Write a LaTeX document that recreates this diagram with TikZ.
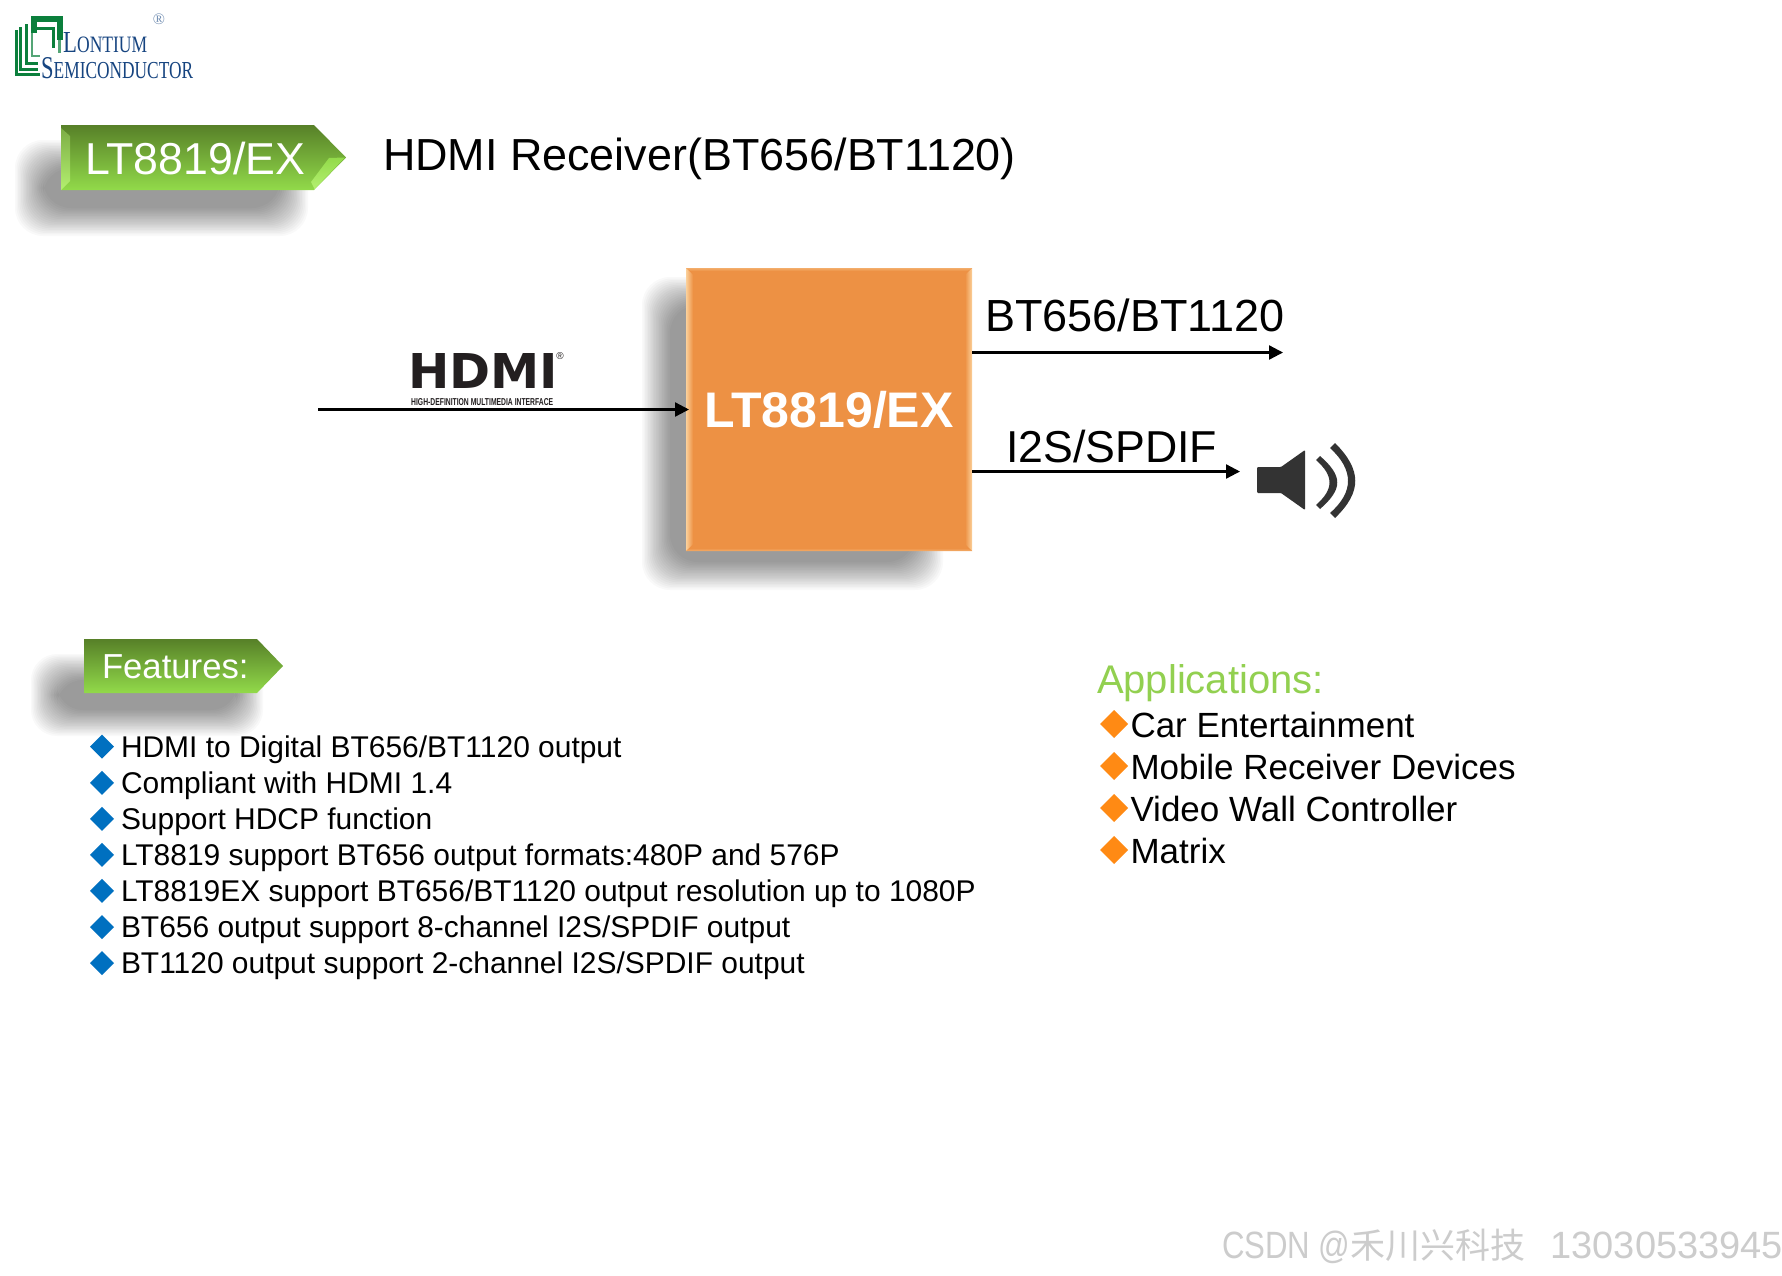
\documentclass[tikz,border=0pt]{standalone}
\usepackage{fontspec}
\usepackage{graphicx}
\setmainfont{Liberation Sans}
\newfontfamily\cjk{Noto Sans CJK SC}
\newfontfamily\serifl{Liberation Serif}
\newfontfamily\heavy{DejaVu Sans}
\usetikzlibrary{arrows.meta}
\definecolor{gTop}{HTML}{578028}
\definecolor{gBot}{HTML}{92DA4A}
\definecolor{gLite}{HTML}{B4F070}
\definecolor{chipO}{HTML}{ED9144}
\definecolor{chipL}{HTML}{FBD09A}
\definecolor{blueB}{HTML}{0070C0}
\definecolor{orangeB}{HTML}{FF8A14}
\definecolor{appG}{HTML}{92D050}
\definecolor{logoB}{HTML}{164480}
\definecolor{logoG}{HTML}{0B7F3C}
\definecolor{spk}{HTML}{333333}
\definecolor{hdmiK}{HTML}{231F20}
\newcommand\softshade[5]{% x1 y1 x2 y2 blur
  \foreach \i in {0,...,18}{
    \fill[black,fill opacity=.022,rounded corners=#5pt]
      ({#1+\i*#5/18},{#2+\i*#5/18}) rectangle ({#3-\i*#5/18},{#4-\i*#5/18});
  }}
\tikzset{
  txt/.style={inner sep=0pt,outer sep=0pt,anchor=base west},
  wire/.style={line width=2.3pt,draw=black,-{Triangle[length=14pt,width=14pt]}},
  tag/.style={top color=gTop,bottom color=gBot},
}
\newcommand\fs[1]{\fontsize{#1}{#1}\selectfont}
\begin{document}
\begin{tikzpicture}[x=1pt,y=-1pt]
\useasboundingbox (0,0) rectangle (1782,1275);
\fill[white] (0,0) rectangle (1782,1275);

% company logo
\begin{scope}[draw=logoG,line cap=butt]
  \draw[line width=6pt] (33.5,33) -- (33.5,19) -- (59.5,19) -- (59.5,40);
  \draw[line width=3.5pt] (36,28.5) -- (53.5,28.5) -- (53.5,48);
  \draw[line width=3pt,draw=logoG!70!white] (59.5,40) -- (59.5,53);
  \draw[line width=2pt,draw=logoG!70!white] (32,33) -- (32,56) -- (40,56);
  \draw[line width=3pt] (26,24) -- (26,63) -- (38,63);
  \draw[line width=3pt] (20.5,27) -- (20.5,69) -- (38,69);
  \draw[line width=3.5pt] (16.5,30) -- (16.5,74.5) -- (40,74.5);
\end{scope}
\node[inner sep=0pt,anchor=south west] (lontium) at (63,52.5)
  {\color{logoB}\serifl\resizebox{84pt}{20pt}{\fs{26}L\fs{20}ONTIUM}};
\node[inner sep=0pt,anchor=south west] (semi) at (41,79)
  {\color{logoB}\serifl\resizebox{152pt}{21pt}{\fs{26}S\fs{20}EMICONDUCTOR}};
\node[inner sep=0pt,text=logoB!60!white,font=\serifl\fs{16}] (reg) at (159,19) {®};

% title tag
\softshade{15}{140}{308}{236}{28}
\path[tag] (61,125) -- (314,125) -- (346,157.5) -- (314,190) -- (61,190) -- cycle;
\path[top color=gTop!60!gLite,bottom color=gLite] (61,128) -- (70,136) -- (70,181) -- (61,190) -- cycle;
\path[top color=gBot,bottom color=gLite] (345,157.5) -- (314.5,189) -- (311,182) -- (329,158) -- cycle;
\node[txt,text=white,font=\fs{44.7}] (tagT) at (85,174.5) {LT8819/EX};
\node[txt,text=black,font=\fs{44.9}] (title) at (383,170) {HDMI Receiver(BT656/BT1120)};

% chip
\softshade{642}{277}{943}{590}{28}
\node[fill=chipO,inner sep=0pt,outer sep=0pt,minimum width=286pt,minimum height=283pt,
      text=white,font=\bfseries\fs{50}] (chip) at (829,409.5) {\raisebox{-1pt}{LT8819/EX}};
\path[left color=chipL,right color=chipO] (686,268) -- (693,275) -- (693,544) -- (686,551) -- cycle;
\path[left color=chipO,right color=chipL] (972,268) -- (965,275) -- (965,544) -- (972,551) -- cycle;
\path[top color=chipO!55!chipL,bottom color=chipO] (686,268) -- (972,268) -- (968,271) -- (690,271) -- cycle;
\path[top color=chipO,bottom color=chipO!55!chipL] (690,548) -- (968,548) -- (972,551) -- (686,551) -- cycle;

% connectors
\coordinate (hdmiIn) at (318,409.5);
\coordinate (btEnd) at (1283,352.5);
\coordinate (i2sEnd) at (1240,471.5);
\draw[wire,shorten >=-3pt] (hdmiIn) -- (chip.west |- hdmiIn);
\draw[wire] (chip.east |- btEnd) -- (btEnd);
\draw[wire] (chip.east |- i2sEnd) -- (i2sEnd);
\node[txt,font=\fs{45}] (btL) at (985,331.5) {BT656/BT1120};
\node[txt,font=\fs{44.7}] (i2sL) at (1006,462) {I2S/SPDIF};

% HDMI logo
\node[inner sep=0pt,anchor=south west,text=hdmiK] (hdmiW) at (408,388.5)
  {\resizebox{150pt}{35pt}{\heavy\bfseries\fs{40}HDMI}};
\node[inner sep=0pt,anchor=south west,text=hdmiK] (hdmiS) at (411,406)
  {\resizebox{142pt}{7pt}{\bfseries\fs{10}HIGH-DEFINITION MULTIMEDIA INTERFACE}};
\node[inner sep=0pt,text=hdmiK,font=\fs{10}] (hdmiR) at (560,356) {®};

% speaker
\fill[spk,rounded corners=1pt] (1257,467) -- (1281,467) -- (1305,450) -- (1305,510) -- (1281,493) -- (1257,493) -- cycle;
\fill[spk] (1320,456) .. controls (1343,476) and (1343,489) .. (1320,509) -- (1316,505)
  .. controls (1334,489) and (1334,476) .. (1316,460) -- cycle;
\fill[spk] (1335,443) .. controls (1362,470) and (1362,492) .. (1335,518) -- (1330,513)
  .. controls (1354,492) and (1354,470) .. (1330,448) -- cycle;

% features tag
\softshade{31}{654}{263}{736}{26}
\path[tag] (84,639) -- (257,639) -- (283,666) -- (257,693) -- (84,693) -- cycle;
\node[txt,text=white,font=\fs{34.7}] (featT) at (102,678) {Features:};

% feature list
\foreach \n/\yy/\s in {
  f1/746.7/{HDMI to Digital BT656/BT1120 output},
  f2/782.8/{Compliant with HDMI 1.4},
  f3/818.8/{Support HDCP function},
  f4/854.9/{LT8819 support BT656 output formats:480P and 576P},
  f5/890.9/{LT8819EX support BT656/BT1120 output resolution up to 1080P},
  f6/927/{BT656 output support 8-channel I2S/SPDIF output},
  f7/963/{BT1120 output support 2-channel I2S/SPDIF output}}{
  \fill[blueB] (90,\yy) -- (102,\yy-12) -- (114,\yy) -- (102,\yy+12) -- cycle;
  \node[txt,font=\fs{29.95}] (\n) at (121,\yy+10.7) {\s};
}

% applications
\node[txt,text=appG,font=\fs{40}] (appT) at (1097,693) {Applications:};
\foreach \n/\yy/\s in {
  a1/724/{Car Entertainment},
  a2/766/{Mobile Receiver Devices},
  a3/808/{Video Wall Controller},
  a4/850/{Matrix}}{
  \fill[orangeB] (1100,\yy) -- (1114,\yy-14) -- (1128,\yy) -- (1114,\yy+14) -- cycle;
  \node[txt,font=\fs{35}] (\n) at (1130.5,\yy+13) {\s};
}

% watermark
\node[txt,text=black!20,font=\fs{38}] (wm) at (1222,1258)
  {\scalebox{.82}[1]{CSDN @}{\fs{35}\cjk 禾川兴科技}\hspace{25pt}13030533945};
\end{tikzpicture}
\end{document}
